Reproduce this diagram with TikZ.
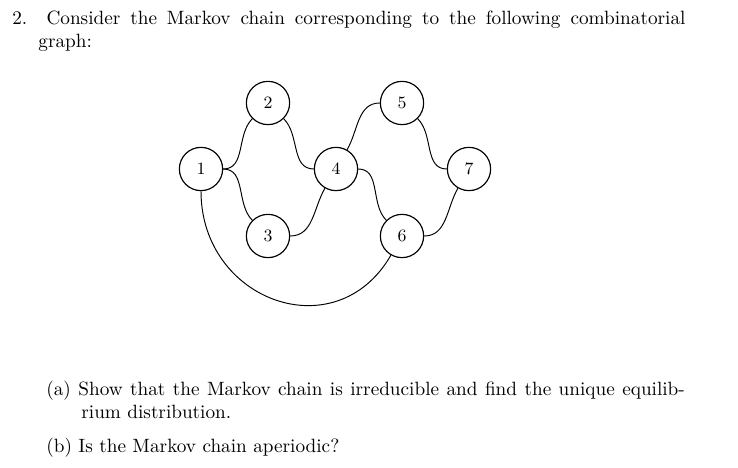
\documentclass[tikz,border=0pt]{standalone}
\begin{document}
\begin{tikzpicture}[x=0.52pt,y=-0.52pt,
  v/.style={draw,circle,minimum size=22.5pt,inner sep=0pt,font=\small,line width=0.6pt},
  e/.style={line width=0.5pt}]
\useasboundingbox (0,0) rectangle (738,468);
\node[anchor=base west,inner sep=0] (t1) at (12,25) {\makebox[350pt][s]{2. Consider the Markov chain corresponding to the following combinatorial}};
\node[anchor=base west,inner sep=0] (t2) at (38,48) {graph:};
\node[v] (n1) at (201,169) {1};
\node[v] (n2) at (268,103) {2};
\node[v] (n3) at (268,236) {3};
\node[v] (n4) at (336,169) {4};
\node[v] (n5) at (402,103) {5};
\node[v] (n6) at (402,236) {6};
\node[v] (n7) at (469,169) {7};
\draw[e] (n1) to[out=0,in=-135] (n2);
\draw[e] (n1) to[out=0,in=135] (n3);
\draw[e] (n2) to[out=-45,in=180] (n4);
\draw[e] (n3) to[out=0,in=-120] (n4);
\draw[e] (n4) to[out=60,in=180] (n5);
\draw[e] (n4) to[out=0,in=135] (n6);
\draw[e] (n5) to[out=-45,in=180] (n7);
\draw[e] (n6) to[out=0,in=-120] (n7);
\draw[e] (n1) to[out=-90,in=-120,looseness=1.4] (n6);
\node[anchor=base west,inner sep=0] (a1) at (46,396) {\makebox[332pt][s]{(a) Show that the Markov chain is irreducible and find the unique equilib-}};
\node[anchor=base west,inner sep=0] (a2) at (81,419) {rium distribution.};
\node[anchor=base west,inner sep=0] (b1) at (46,453) {(b) Is the Markov chain aperiodic?};
\end{tikzpicture}
\end{document}
